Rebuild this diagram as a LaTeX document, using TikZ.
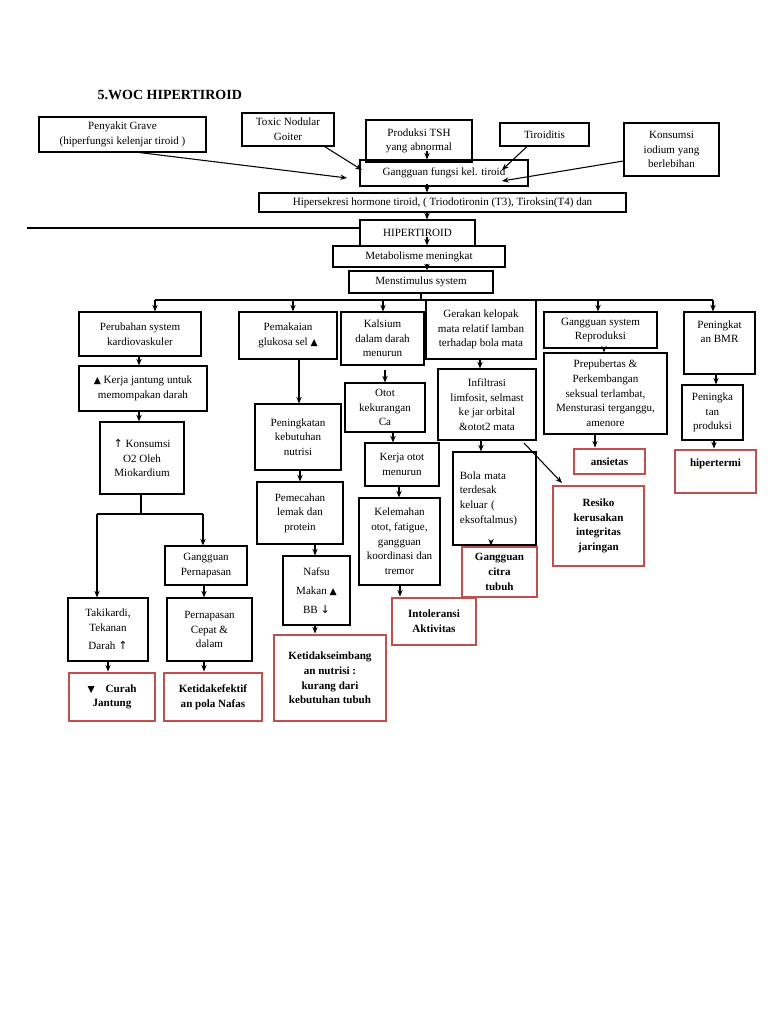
\documentclass[tikz,border=0pt]{standalone}
\usepackage{fontspec}
\setmainfont{Liberation Serif}
\newfontfamily\symf{DejaVu Sans}
\usetikzlibrary{arrows.meta}
\definecolor{redc}{HTML}{C0504D}
\newcommand{\up}{{\symf\scriptsize ▲}}
\newcommand{\uar}{{\symf ↑}}
\newcommand{\dar}{{\symf ↓}}
\newcommand{\dtri}{{\symf\scriptsize ▼}}
\begin{document}
\begin{tikzpicture}[x=0.75pt,y=-0.75pt,
  bx/.style 2 args={minimum width=#1*0.75pt, minimum height=#2*0.75pt},
  box/.style={draw, line width=0.8pt, inner sep=1pt, align=center, font=\fontsize{8.3}{11}\selectfont},
  rbox/.style={draw=redc, line width=2.2pt, inner sep=2pt, align=center, font=\fontsize{8.3}{11}\selectfont\bfseries},
  arr/.style={-{Stealth[length=5pt,width=4pt]}, line width=0.8pt},
  ln/.style={line width=0.8pt}]
\useasboundingbox (0,0) rectangle (768,1024);
\node[font=\fontsize{10.5}{12}\selectfont\bfseries, anchor=west] (title) at (93,95) {5.WOC HIPERTIROID};
\node[box,bx={167}{35}] (grave) at (122.5,134.5) {Penyakit Grave\\(hiperfungsi kelenjar tiroid )};
\node[box,bx={92}{33}] (toxic) at (288,129.5) {Toxic Nodular\\Goiter};
\node[box,bx={106}{42}] (tsh) at (419,141) {Produksi TSH\\yang abnormal};
\node[box,bx={89}{23}] (tiro) at (544.5,134.5) {Tiroiditis};
\node[box,bx={95}{53}] (kons) at (671.5,149.5) {Konsumsi\\iodium yang\\berlebihan};
\node[box,bx={168}{26}] (gf) at (444,173) {Gangguan fungsi kel. tiroid};
\node[box,bx={367}{19}] (hs) at (442.5,202.5) {Hipersekresi hormone tiroid, ( Triodotironin (T3), Tiroksin(T4) dan};
\node[box,bx={115}{26}] (hip) at (417.5,233) {HIPERTIROID};
\node[box,bx={172}{21}] (met) at (419,256.5) {Metabolisme meningkat};
\node[box,bx={144}{22}] (men) at (421,282) {Menstimulus system};
% column 1
\node[box,bx={122}{44}] (per) at (140,334) {Perubahan system\\kardiovaskuler};
\node[box,bx={128}{45}] (kj) at (143,388.5) {\up\ Kerja jantung untuk\\memompakan darah};
\node[box,bx={84}{72}] (ko2) at (142,458) {\uar\ Konsumsi\\O2 Oleh\\Miokardium};
\node[box,bx={82}{39}] (gp) at (206,565.5) {Gangguan\\Pernapasan};
\node[box,bx={80}{63}] (tak) at (108,629.5) {Takikardi,\\Tekanan\\[3pt]Darah \uar};
\node[box,bx={85}{63}] (pc) at (209.5,629.5) {Pernapasan\\Cepat \&\\dalam};
\node[rbox,bx={86}{48}] (cj) at (112,697) {\dtri\quad Curah\\Jantung};
\node[rbox,bx={98}{48}] (kpn) at (213,697) {Ketidakefektif\\an pola Nafas};
% column 2
\node[box,bx={98}{47}] (pem) at (288,335.5) {Pemakaian\\glukosa sel \up};
\node[box,bx={86}{66}] (pkb) at (298,437) {Peningkatan\\kebutuhan\\nutrisi};
\node[box,bx={86}{62}] (plp) at (300,513) {Pemecahan\\lemak dan\\protein};
\node[box,bx={67}{69}] (nm) at (316.5,590.5) {Nafsu\\[3pt]Makan \up\\[3pt]BB \dar};
\node[rbox,bx={112}{86}] (kse) at (330,678) {Ketidakseimbang\\an nutrisi :\\kurang dari\\kebutuhan tubuh};
% column 3
\node[box,bx={83}{53}] (kal) at (382.5,338.5) {Kalsium\\dalam darah\\menurun};
\node[box,bx={80}{49}] (oca) at (385,407.5) {Otot\\kekurangan\\Ca};
\node[box,bx={74}{43}] (ko) at (402,464.5) {Kerja otot\\menurun};
\node[box,bx={81}{87}] (kel) at (399.5,541.5) {Kelemahan\\otot, fatigue,\\gangguan\\koordinasi dan\\tremor};
\node[rbox,bx={84}{47}] (int) at (434,621.5) {Intoleransi\\Aktivitas};
% column 4
\node[box,bx={110}{59}] (ger) at (481,329.5) {Gerakan kelopak\\mata relatif lamban\\terhadap bola mata};
\node[box,bx={98}{71}] (inf) at (487,404.5) {Infiltrasi\\limfosit, selmast\\ke jar orbital\\\&otot2 mata};
\node[box,bx={83}{93},align=left,text width=52pt] (bm) at (494.5,498.5) {Bola mata\\terdesak\\keluar (\\eksoftalmus)\\[8pt]};
\node[rbox,bx={75}{50}] (gct) at (499.5,572) {Gangguan\\citra\\tubuh};
\node[rbox,bx={91}{80}] (res) at (598.5,526) {Resiko\\kerusakan\\integritas\\jaringan};
% column 5
\node[box,bx={113}{36}] (gr) at (600.5,330) {Gangguan system\\Reproduksi};
\node[box,bx={123}{81}] (pp) at (605.5,393.5) {Prepubertas \&\\Perkembangan\\seksual terlambat,\\Mensturasi terganggu,\\amenore};
\node[rbox,bx={71}{25}] (ans) at (609.5,461.5) {ansietas};
% column 6
\node[box,bx={71}{62}] (bmr) at (719.5,343) {Peningkat\\an BMR\\[6pt]};
\node[box,bx={61}{55}] (ptp) at (712.5,412.5) {Peningka\\tan\\produksi};
\node[rbox,bx={81}{43}] (hpt) at (715.5,471.5) {hipertermi\\[2pt]};
% top arrows
\coordinate (g1) at (135,152); \coordinate (g2) at (347,178);
\draw[arr] (g1) -- (g2);
\draw[arr] (toxic.south east) ++(-10,0) -- (362,170);
\draw[arr] ([yshift=6pt]gf.north -| 427,0) -- (gf.north -| 427,0);
\draw[arr] (tiro.south -| 527,0) -- (502,170);
\draw[arr] (kons.west |- 0,161) -- (502,181);
\draw[arr] ([yshift=6pt]hs.north -| 427,0) -- (hs.north -| 427,0);
\draw[arr] ([yshift=6pt]hip.north -| 427,0) -- (hip.north -| 427,0);
\draw[arr] ([yshift=6pt]met.north -| 427,0) -- (met.north -| 427,0);
\draw[arr] ([yshift=5pt]men.north -| 427,0) -- (men.north -| 427,0);
\coordinate (lft) at (27,228);
\draw[ln] (lft) -- (hip.west |- lft);
% branch
\coordinate (b0) at (421,300);
\draw[ln] (men.south -| b0) -- (b0);
\draw[ln] (155,300) -- (713,300);
\draw[arr] (155,300) -- (per.north -| 155,0);
\draw[arr] (293,300) -- (pem.north -| 293,0);
\draw[arr] (383,300) -- (kal.north -| 383,0);
\draw[arr] (598,300) -- (gr.north -| 598,0);
\draw[arr] (713,300) -- (bmr.north -| 713,0);
% col1
\draw[arr] (per.south -| 139,0) -- (kj.north -| 139,0);
\draw[arr] (kj.south -| 139,0) -- (ko2.north -| 139,0);
\coordinate (s1) at (141,514);
\draw[ln] (ko2.south -| s1) -- (s1);
\draw[ln] (97,514) -- (203,514);
\draw[arr] (97,514) -- (tak.north -| 97,0);
\draw[arr] (203,514) -- (gp.north -| 203,0);
\draw[arr] (gp.south -| 204,0) -- (pc.north -| 204,0);
\draw[arr] (tak.south -| 108,0) -- (cj.north -| 108,0);
\draw[arr] (pc.south -| 204,0) -- (kpn.north -| 204,0);
% col2
\draw[arr] (299,360) -- (pkb.north -| 299,0);
\draw[arr] (pkb.south -| 300,0) -- (plp.north -| 300,0);
\draw[arr] (plp.south -| 315,0) -- (nm.north -| 315,0);
\draw[arr] (nm.south -| 315,0) -- (kse.north -| 315,0);
% col3
\draw[arr] (385,370) -- (oca.north -| 385,0);
\draw[arr] (oca.south -| 393,0) -- (ko.north -| 393,0);
\draw[arr] (ko.south -| 399,0) -- (kel.north -| 399,0);
\draw[arr] (kel.south -| 400,0) -- (int.north -| 400,0);
% col4
\draw[arr] (ger.south -| 480,0) -- (inf.north -| 480,0);
\draw[arr] (inf.south -| 481,0) -- (bm.north -| 481,0);
\draw[arr] (bm.south -| 491,0) -- (gct.north -| 491,0);
\draw[arr] (524,443) -- (562,483);
% col5
\draw[arr] ([yshift=4pt]pp.north -| 604,0) -- (pp.north -| 604,0);
\draw[arr] (pp.south -| 595,0) -- (ans.north -| 595,0);
% col6
\draw[arr] (bmr.south -| 716,0) -- (ptp.north -| 716,0);
\draw[arr] (ptp.south -| 714,0) -- (hpt.north -| 714,0);
\end{tikzpicture}
\end{document}
